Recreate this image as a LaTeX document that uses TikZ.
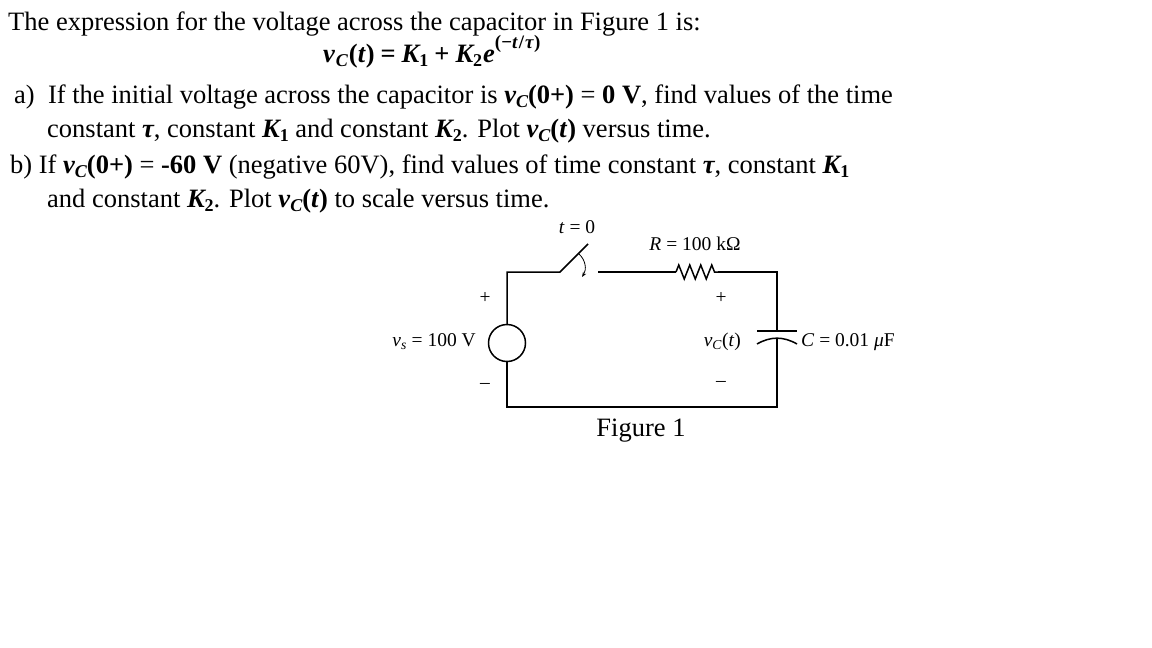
\documentclass[tikz,border=0pt]{standalone}
\usepackage{fontspec}
\setmainfont{Liberation Serif}
\usetikzlibrary{decorations.pathmorphing,arrows.meta}
\newcommand{\bv}{{\bfseries\itshape v}}
\newcommand{\bsub}[1]{\raisebox{-0.35ex}{\fontsize{18}{18}\selectfont\bfseries #1}}
\newcommand{\bK}[1]{{\bfseries\itshape K}\bsub{#1}}
\newcommand{\vC}{\bv\bsub{\itshape C}}
\begin{document}
\begin{tikzpicture}[x=1pt,y=-1pt,
  txt/.style={anchor=base west,inner sep=0,font=\fontsize{26.5}{28}\selectfont},
  ctxt/.style={inner sep=0,font=\fontsize{19.5}{21}\selectfont},
  wire/.style={line width=1.5pt}]
\useasboundingbox (0,0) rectangle (1152,648);
\node[txt] (l1) at (8,30) {The expression for the voltage across the capacitor in Figure 1 is:};
\node[txt] (l2) at (323,62) {\bv\hspace{1pt}\bsub{\itshape C}{\bfseries\hspace{1pt}(\textit{t})\hspace{6pt}=\hspace{6pt}}\bK{1}\hspace{6pt}{\bfseries+}\hspace{6pt}\bK{2}\hspace{1pt}{\bfseries\itshape e}\raisebox{1.1ex}{\fontsize{19}{19}\selectfont\bfseries(−\textit{t}\hspace{1pt}/\hspace{1pt}\textit{τ})}};
\node[txt] (l3) at (14,103) {a)\ \ If the initial voltage across the capacitor is \vC{\bfseries(0+)} = {\bfseries 0 V}, find values of the time};
\node[txt] (l4) at (47,137) {constant {\bfseries\itshape τ}, constant \bK{1} and constant \bK{2}. Plot \vC{\bfseries(\textit{t})} versus time.};
\node[txt] (l5) at (10,173) {b)\ If \vC{\bfseries(0+)} = {\bfseries -60 V} (negative 60V), find values of time constant {\bfseries\itshape τ}, constant \bK{1}};
\node[txt] (l6) at (47,207) {and constant \bK{2}. Plot \vC{\bfseries(\textit{t})} to scale versus time.};
% circuit
\coordinate (tl) at (507,272);
\coordinate (sw1) at (560,272);
\coordinate (swt) at (588,244);
\coordinate (sw2) at (598,272);
\coordinate (r1) at (676,272);
\coordinate (r2) at (718,272);
\coordinate (tr) at (777,272);
\coordinate (br) at (777,407);
\coordinate (bl) at (507,407);
\node[circle,draw,line width=1.5pt,minimum size=37pt,inner sep=0] (src) at (507,343) {};
\coordinate (cp1) at (777,331);
\coordinate (cp2) at (777,338);
\draw[wire] (src.north) -- (tl) -- (sw1) -- (swt);
\draw[line width=0.8pt,-{Stealth[length=5pt]}] (579,254) to[bend left=40] (582,277);
\draw[wire] (sw2) -- (r1);
\draw[wire,decorate,decoration={zigzag,segment length=11pt,amplitude=7pt}] (r1) -- (r2);
\draw[wire] (r2) -- (tr) -- (cp1);
\draw[wire] (757,331) -- (797,331);
\draw[wire] (757,344) to[bend left=30] (797,344);
\draw[wire] (cp2) -- (br) -- (bl) -- (src.south);
\node[ctxt] (tz) at (577,227) {\textit{t} = 0};
\node[ctxt] (rl) at (695,244) {\textit{R} = 100 kΩ};
\node[ctxt] (p1) at (485,298) {+};
\node[ctxt] (m1) at (485,386) {–};
\node[ctxt,anchor=east] (vs) at (476,342) {\textit{v\textsubscript{s}} = 100 V};
\node[ctxt] (p2) at (721,298) {+};
\node[ctxt] (m2) at (721,384) {–};
\node[ctxt,anchor=east] (vc) at (741,342) {\textit{v\textsubscript{C}}(\textit{t})};
\node[ctxt,anchor=west] (cl) at (801,342) {\textit{C} = 0.01 \textit{μ}F};
\node[inner sep=0,font=\fontsize{26.5}{28}\selectfont] (fig) at (641,431) {Figure 1};
\end{tikzpicture}
\end{document}
